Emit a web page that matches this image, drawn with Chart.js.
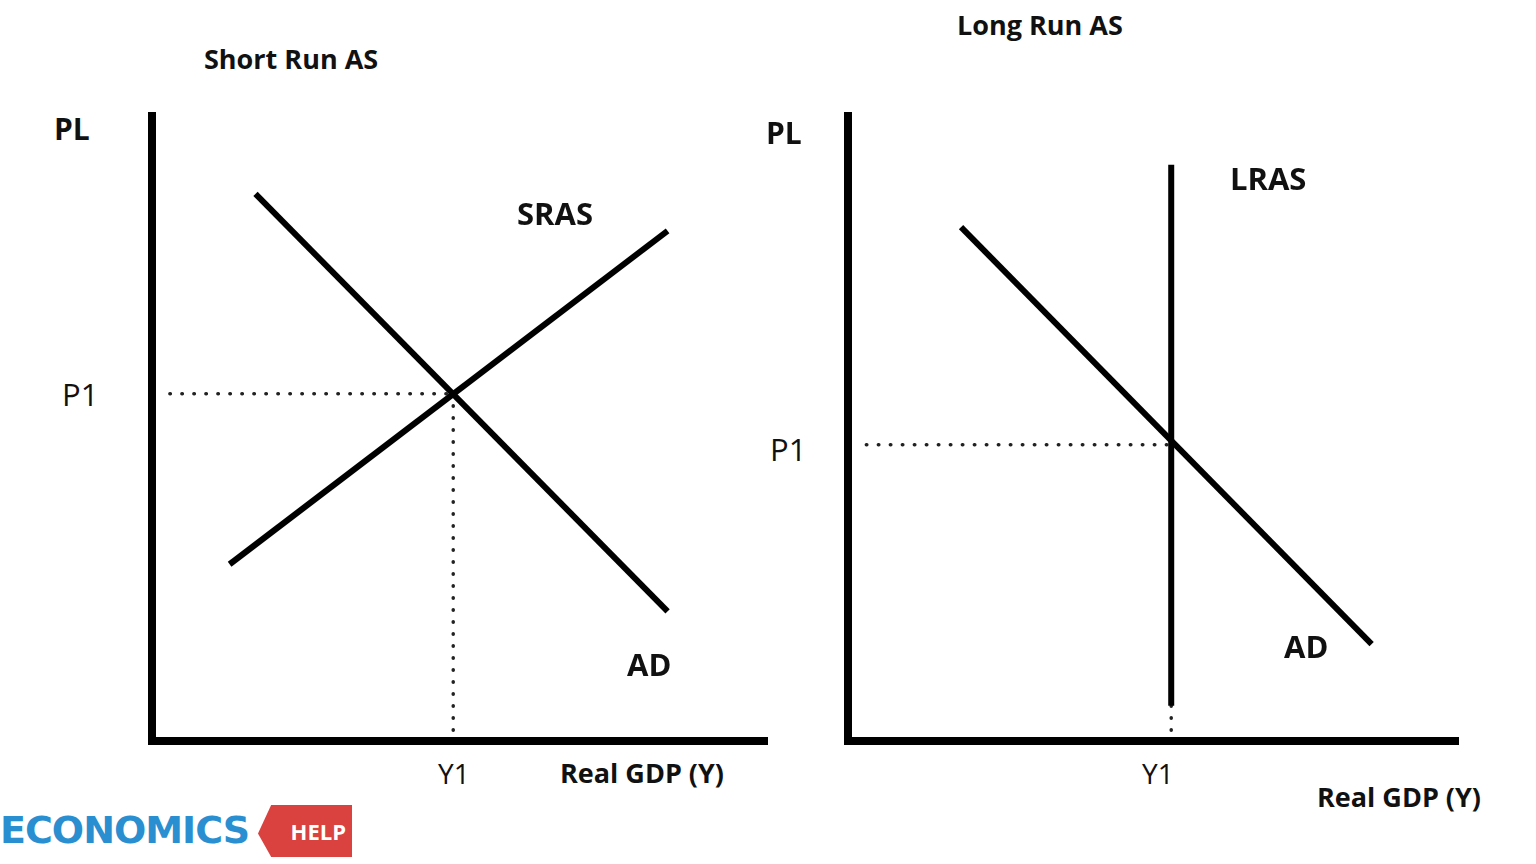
<!DOCTYPE html>
<html>
<head>
<meta charset="utf-8">
<script src="https://cdn.jsdelivr.net/npm/chart.js@4"></script>
<style>
body { margin: 0; width: 1536px; height: 864px; background: #fff; position: relative; overflow: hidden; font-family: "Open Sans", sans-serif; }
.box { position: absolute; }
.t { position: absolute; color: #111; white-space: nowrap; }
.b { font-weight: bold; }
</style>
</head>
<body>
<div class="box" style="left:144px;top:112px;width:624px;height:637px"><canvas id="left"></canvas></div>
<div class="box" style="left:840px;top:112px;width:619px;height:637px"><canvas id="right"></canvas></div>

<div class="t b" style="left:204px;top:40px;font-size:27px">Short Run AS</div>
<div class="t b" style="left:957px;top:6px;font-size:27px">Long Run AS</div>
<div class="t b" style="left:54px;top:108px;font-size:30px">PL</div>
<div class="t b" style="left:766px;top:112px;font-size:30px">PL</div>
<div class="t" style="left:62px;top:373px;font-size:31px">P1</div>
<div class="t" style="left:770px;top:428px;font-size:31px">P1</div>
<div class="t b" style="left:517px;top:192px;font-size:31px">SRAS</div>
<div class="t b" style="left:1230px;top:157px;font-size:31px">LRAS</div>
<div class="t b" style="left:627px;top:643px;font-size:31px">AD</div>
<div class="t b" style="left:1284px;top:625px;font-size:31px">AD</div>
<div class="t" style="left:438px;top:754px;font-size:28px">Y1</div>
<div class="t" style="left:1142px;top:754px;font-size:28px">Y1</div>
<div class="t b" style="left:560px;top:754px;font-size:27px">Real GDP (Y)</div>
<div class="t b" style="left:1317px;top:778px;font-size:27px">Real GDP (Y)</div>

<div class="t" style="left:0;top:808px;font-size:38px;font-weight:900;color:#2a8fd0;font-family:'DejaVu Sans',sans-serif;letter-spacing:-1px">ECONOMICS</div>
<div class="t" style="left:258px;top:805px;width:94px;height:52px;background:#d9423f;clip-path:polygon(14% 0,100% 0,100% 100%,14% 100%,0 55%);color:#fff;font-weight:bold;font-size:22px;line-height:52px;text-align:right;padding-right:6px;box-sizing:border-box">HELP</div>

<script>
// left panel (coordinates in 0..100 plot units)
const sr_ad_x = [16.8, 83.7];
const sr_ad_y = [87.0, 20.6];
const sras_x = [12.6, 83.7];
const sras_y = [28.1, 81.1];
const sr_eq_x = 48.9;
const sr_eq_y = 55.2;

// right panel
const lr_ad_x = [18.5, 85.7];
const lr_ad_y = [81.7, 15.4];
const lras_x = 52.9;
const lras_y = [91.6, 5.6];
const lr_eq_y = 47.1;

function pts(xs, ys) {
    return xs.map((x, i) => ({ x: x, y: ys[i] }));
}

function solid(data) {
    return { data: data, showLine: true, borderColor: '#000', borderWidth: 6, pointRadius: 0, fill: false };
}
function dotted(data) {
    return { data: data, showLine: true, borderColor: '#222', borderWidth: 3.5, borderDash: [0.5, 11.5], borderCapStyle: 'round', pointRadius: 0, fill: false };
}

function makeChart(id, datasets) {
    const ctx = document.getElementById(id).getContext('2d');
    new Chart(ctx, {
        type: 'scatter',
        data: { datasets: datasets },
        options: {
            responsive: true,
            maintainAspectRatio: false,
            animation: false,
            layout: { padding: 0 },
            plugins: { legend: { display: false }, tooltip: { enabled: false } },
            scales: {
                x: { min: 0, max: 100, grid: { display: false }, ticks: { display: false }, border: { color: '#000', width: 8 } },
                y: { min: 0, max: 100, grid: { display: false }, ticks: { display: false }, border: { color: '#000', width: 8 } }
            }
        }
    });
}

makeChart('left', [
    solid(pts(sr_ad_x, sr_ad_y)),
    solid(pts(sras_x, sras_y)),
    dotted([{ x: 2.9, y: sr_eq_y }, { x: sr_eq_x, y: sr_eq_y }]),
    dotted([{ x: sr_eq_x, y: sr_eq_y }, { x: sr_eq_x, y: 0 }])
]);

makeChart('right', [
    solid(pts(lr_ad_x, lr_ad_y)),
    solid([{ x: lras_x, y: lras_y[0] }, { x: lras_x, y: lras_y[1] }]),
    dotted([{ x: 3, y: lr_eq_y }, { x: lras_x, y: lr_eq_y }]),
    dotted([{ x: lras_x, y: lras_y[1] }, { x: lras_x, y: 0 }])
]);
</script>
</body>
</html>
